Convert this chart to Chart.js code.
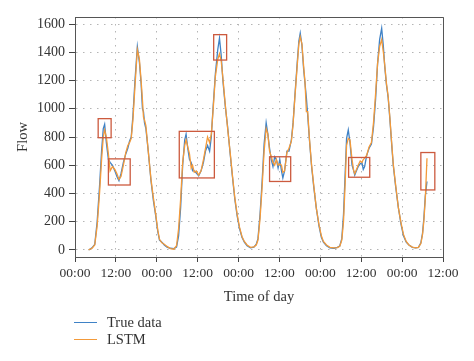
<!DOCTYPE html>
<html>
<head>
<meta charset="utf-8">
<script src="https://cdn.jsdelivr.net/npm/chart.js@4"></script>
<style>
  html, body { margin: 0; padding: 0; background: #fff; }
  #wrap { position: relative; width: 474px; height: 361px; }
  #legend { position: absolute; left: 74px; top: 314px; font-family: "Liberation Serif", serif; font-size: 14.5px; color: #333; }
  #legend .item { height: 17px; line-height: 17px; display: flex; align-items: center; }
  #legend .swatch { width: 23px; height: 0; border-top: 1.4px solid; margin-right: 10px; }
</style>
</head>
<body>
<div id="wrap">
  <canvas id="flow-chart" width="474" height="361"></canvas>
  <div id="legend"></div>
</div>
<script>
// hours since first midnight
const hours = [4.0,5.0,5.8,6.5,7.2,7.8,8.3,8.7,9.2,9.8,10.3,11.0,11.7,12.3,12.9,13.5,14.2,14.9,15.5,16.0,16.5,17.0,17.6,18.3,18.9,19.4,19.8,20.1,20.4,20.8,21.5,22.3,23.0,23.7,24.3,24.8,25.5,26.2,27.0,28.0,29.0,29.8,30.4,31.0,31.6,32.2,32.6,33.1,33.6,34.1,34.5,35.0,35.6,36.3,37.0,37.7,38.3,38.9,39.5,40.0,40.5,41.2,41.9,42.4,42.9,43.4,44.1,44.8,45.5,46.2,46.9,47.6,48.3,49.0,49.7,50.5,51.5,52.5,53.2,53.7,54.3,54.9,55.5,56.1,56.6,57.1,57.6,58.1,58.6,59.1,59.6,60.1,60.6,61.0,61.5,62.2,62.8,63.5,64.0,64.5,65.2,65.7,66.1,66.6,67.1,67.5,67.9,68.3,68.8,69.4,70.1,70.8,71.6,72.3,72.9,73.8,74.8,76.0,77.0,77.7,78.3,78.8,79.3,79.7,80.2,80.7,81.3,81.8,82.1,82.6,83.1,83.7,84.2,84.6,85.0,85.6,86.3,87.0,87.6,88.2,88.8,89.4,90.0,90.5,90.9,91.4,91.9,92.4,92.9,93.4,94.1,94.9,95.7,96.4,97.2,98.0,99.0,100.0,100.8,101.5,102.0,102.4,102.8,103.3];
const trueData = [0,15,40,200,450,700,860,890,760,640,620,600,560,520,490,540,620,680,720,770,800,950,1200,1440,1330,1180,1000,980,900,860,700,490,350,240,130,70,55,35,20,12,10,20,100,300,600,780,820,720,640,620,560,560,545,525,560,620,700,740,700,800,1000,1250,1420,1500,1380,1200,1020,870,690,520,360,240,150,90,55,30,15,20,40,80,250,480,750,900,820,720,640,590,660,640,580,640,560,510,560,700,700,780,900,1080,1320,1480,1535,1450,1280,1180,1080,950,780,600,440,300,170,90,55,30,15,12,18,28,80,250,550,790,850,760,600,560,530,560,590,610,620,570,590,670,720,750,870,1060,1320,1490,1570,1440,1300,1170,1080,930,760,600,450,300,180,100,55,35,18,15,18,50,120,230,380,485];
const lstmData = [0,12,35,170,400,640,800,850,800,680,560,590,570,540,500,520,600,690,740,760,790,920,1160,1420,1350,1200,1060,940,920,880,700,500,370,250,140,75,50,40,25,10,5,30,150,360,620,740,780,730,680,580,600,550,560,530,560,640,720,800,760,820,980,1230,1350,1390,1340,1220,1030,860,700,530,370,250,160,95,60,35,18,22,35,70,220,440,700,860,820,700,660,620,600,640,600,610,600,550,560,690,720,770,890,1070,1300,1460,1510,1460,1300,1190,980,980,790,610,450,300,180,100,60,35,18,14,16,25,70,200,480,740,790,780,640,560,540,570,600,630,620,640,650,670,730,760,900,1100,1320,1440,1490,1400,1310,1180,1090,940,770,610,460,300,190,110,60,35,20,15,18,45,110,210,360,650];
const yTicks = [0,200,400,600,800,1000,1200,1400,1600];
const xTicks = [0,12,24,36,48,60,72,84,96,108];
// highlighted regions: [hourFrom, hourTo, flowLow, flowHigh]
const boxes = [[6.8,10.6,795,930],[9.8,16.2,460,645],[30.6,40.9,510,840],[40.7,44.5,1345,1525],[57.1,63.3,485,660],[80.3,86.5,515,655],[101.5,105.6,425,690]];

const seriesNames = ['True data', 'LSTM'];
const seriesColors = ['#3f82c6', '#f39a3a'];

const serif = '"Liberation Serif", "DejaVu Serif", serif';

const frameAndBoxes = {
  id: 'frameAndBoxes',
  afterDatasetsDraw(chart) {
    const {ctx, chartArea, scales} = chart;
    ctx.save();
    ctx.strokeStyle = '#cc5a3e';
    ctx.lineWidth = 1.3;
    boxes.forEach(b => {
      const x1 = scales.x.getPixelForValue(b[0]);
      const x2 = scales.x.getPixelForValue(b[1]);
      const y1 = scales.y.getPixelForValue(b[3]);
      const y2 = scales.y.getPixelForValue(b[2]);
      ctx.strokeRect(x1, y1, x2 - x1, y2 - y1);
    });
    // top and right frame lines
    ctx.strokeStyle = '#555';
    ctx.lineWidth = 1;
    ctx.beginPath();
    ctx.moveTo(chartArea.left, chartArea.top + 0.5);
    ctx.lineTo(chartArea.right + 0.5, chartArea.top + 0.5);
    ctx.lineTo(chartArea.right + 0.5, chartArea.bottom);
    ctx.stroke();
    ctx.restore();
  }
};

const chart = new Chart(document.getElementById('flow-chart'), {
  type: 'line',
  data: {
    datasets: [
      {
        label: seriesNames[0],
        data: hours.map((h, i) => ({x: h, y: trueData[i]})),
        borderColor: seriesColors[0],
        borderWidth: 1.3,
        pointRadius: 0,
        tension: 0,
        order: 1
      },
      {
        label: seriesNames[1],
        data: hours.map((h, i) => ({x: h, y: lstmData[i]})),
        borderColor: seriesColors[1],
        borderWidth: 1.3,
        pointRadius: 0,
        tension: 0,
        order: 0
      }
    ]
  },
  options: {
    responsive: false,
    animation: false,
    devicePixelRatio: 1,
    layout: { padding: { top: 17, right: 31, left: 0, bottom: 54 } },
    plugins: { legend: { display: false }, tooltip: { enabled: false } },
    scales: {
      x: {
        type: 'linear',
        min: 0,
        max: 108,
        afterBuildTicks: s => { s.ticks = xTicks.map(v => ({value: v})); },
        afterFit: s => { s.height = 50; },
        ticks: {
          color: '#333',
          font: { family: serif, size: 13.5 },
          padding: 3,
          maxRotation: 0,
          autoSkip: false,
          callback: v => (v % 24 === 0 ? '00:00' : '12:00')
        },
        grid: { color: '#b5b5b5', lineWidth: 1, tickColor: '#444', tickLength: 5 },
        border: { color: '#555', width: 1, dash: [1.5, 5.5] },
        title: { display: true, text: 'Time of day', color: '#333', font: { family: serif, size: 14.5 }, padding: { top: 0, bottom: 1 } }
      },
      y: {
        min: -50,
        max: 1650,
        afterBuildTicks: s => { s.ticks = yTicks.map(v => ({value: v})); },
        afterFit: s => { s.width = 75; },
        ticks: { color: '#333', font: { family: serif, size: 14 }, padding: 4, callback: v => String(v) },
        grid: { color: '#b5b5b5', lineWidth: 1, tickColor: '#444', tickLength: 6 },
        border: { color: '#555', width: 1, dash: [1.5, 5.5] },
        title: { display: true, text: 'Flow', color: '#333', font: { family: serif, size: 14.5 }, padding: { top: 14, bottom: 0 } }
      }
    }
  },
  plugins: [frameAndBoxes]
});

// legend stacked under the chart
const legendEl = document.getElementById('legend');
chart.data.datasets.forEach(ds => {
  const item = document.createElement('div');
  item.className = 'item';
  item.innerHTML = '<span class="swatch" style="border-color:' + ds.borderColor + '"></span>' + ds.label;
  legendEl.appendChild(item);
});
</script>
</body>
</html>
